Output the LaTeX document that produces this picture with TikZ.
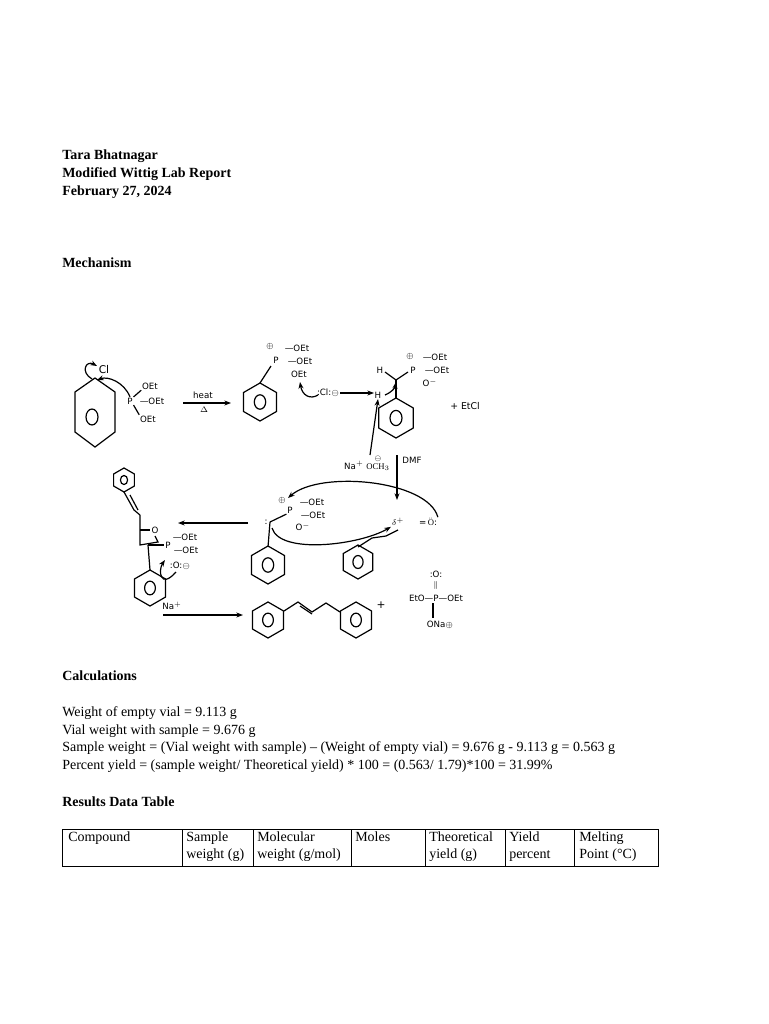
\documentclass[tikz,border=0pt]{standalone}
\usepackage{fontspec}
\setmainfont{Liberation Serif}
\newfontfamily\hand{DejaVu Sans}
\usetikzlibrary{arrows.meta}
\newcommand\hexring[3]{\draw[ink] (#1,#2) +(90:#3) -- +(30:#3) -- +(-30:#3) -- +(-90:#3) -- +(-150:#3) -- +(150:#3) -- cycle; \draw[ink] (#1,#2) ellipse ({0.3*#3} and {0.38*#3});}
\begin{document}
\begin{tikzpicture}[x=0.75pt,y=-0.75pt,
 ink/.style={line width=0.9pt,black},
 arr/.style={ink,-{Stealth[length=5pt]}},
 hw/.style={font=\hand\fontsize{6.5}{7}\selectfont,inner sep=0.5pt},
 body/.style={font=\fontsize{10.5}{12}\selectfont,anchor=west,inner sep=0pt},
 head/.style={body,font=\fontsize{10.5}{12}\selectfont\bfseries}]
\useasboundingbox (0,0) rectangle (768,1024);
% header
\node[head] (t1) at (62,156) {Tara Bhatnagar};
\node[head] (t2) at (62,174) {Modified Wittig Lab Report};
\node[head] (t3) at (62,192) {February 27, 2024};
\node[head] (mech) at (62,263) {Mechanism};
% step 1
\draw[ink] (95,378) -- (115,392) -- (115,432) -- (95,447) -- (75,432) -- (75,392) -- cycle;
\draw[ink] (92,417) ellipse (6 and 8);
\node[hw,font=\hand\fontsize{8}{9}\selectfont] (cl1) at (104,370) {Cl};
\draw[arr] (92,379) .. controls (80,372) and (86,360) .. (97,366);
\node[hw] (p1) at (130,401) {P};
\node[hw] (o11) at (150,386) {OEt};
\node[hw] (o12) at (152,401) {—OEt};
\node[hw] (o13) at (148,419) {OEt};
\draw[arr] (p1.north) .. controls (124,382) and (108,376) .. (97,380);
\draw[ink] (p1.north east) -- (o11.south west); \draw[ink] (p1.south east) -- (o13.north west);
\coordinate (h1) at (183,403); \coordinate (h2) at (231,403);
\draw[arr] (h1) -- (h2);
\node[hw] (heat) at (203,395) {heat};
\node[hw] (delta) at (204,410) {$\Delta$};
% step 2
\hexring{260}{402}{19}
\draw[ink] (260,383) -- (271,366);
\node[hw] (p2) at (276,360) {P};
\node[hw] (pl2) at (270,346) {$\oplus$};
\node[hw] (o21) at (297,348) {—OEt};
\node[hw] (o22) at (300,361) {—OEt};
\node[hw] (o23) at (299,374) {OEt};
\node[hw] (cl2) at (328,393) {:Cl:$\ominus$};
\draw[arr] (318,395) .. controls (310,400) and (302,395) .. (300,382);
\coordinate (a2) at (340,393); \coordinate (b2) at (374,393);
\draw[arr] (a2) -- (b2);
% step 3
\node[hw] (hh) at (380,370) {H};
\node[hw] (h3) at (378,395) {H};
\draw[ink] (385,372) -- (396,380) -- (408,372);
\draw[ink] (396,380) -- (396,398);
\hexring{396}{418}{20}
\node[hw] (p3) at (413,370) {P};
\node[hw] (pl3) at (410,356) {$\oplus$};
\node[hw] (o31) at (435,357) {—OEt};
\node[hw] (o32) at (437,370) {—OEt};
\node[hw] (o33) at (430,383) {O$^-$};
\draw[arr] (385,395) .. controls (392,392) and (395,388) .. (396,382);
\node[hw,font=\hand\fontsize{7}{8}\selectfont] (etcl) at (465,406) {+ EtCl};
% base
\node[hw] (base) at (367,463) {Na$^+$ $\stackrel{\ominus}{\mathrm{OCH}_3}$};
\draw[arr] (370,455) -- (h3.south);
\node[hw] (dmf) at (412,460) {DMF};
\coordinate (d1) at (397,455); \coordinate (d2) at (397,500);
\draw[arr] (d1) -- (d2);
% ylide
\node[hw] (pl4) at (282,500) {$\oplus$};
\node[hw] (p4) at (290,510) {P};
\node[hw] (o41) at (312,502) {—OEt};
\node[hw] (o42) at (313,515) {—OEt};
\node[hw] (o43) at (303,527) {O$^-$};
\node[hw] (c4) at (266,522) {:};
\draw[ink] (270,522) -- (p4.south west);
\draw[ink] (270,522) -- (268,547);
\hexring{268}{565}{19}
\node[hw] (dlt) at (398,522) {$\delta^+$};
\node[hw] (ald) at (428,522) {=\,$\ddot{\mathrm{O}}$:};
\draw[ink] (398,530) -- (386,536) -- (372,538) -- (358,547);
\hexring{358}{562}{17}
\draw[arr] (ald.north east) .. controls (428,480) and (320,470) .. (288,498);
\draw[arr] (272,528) .. controls (280,555) and (360,545) .. (dlt.south west);
\coordinate (a4) at (248,523); \coordinate (b4) at (178,523);
\draw[arr] (a4) -- (b4);
% oxaphosphetane
\hexring{124}{480}{12}
\draw[ink] (124,492) -- (134,510) -- (140,515);
\draw[ink] (130,495) -- (138,510);
\draw[ink] (140,515) -- (140,545) -- (158,542) -- (155,536);
\draw[ink] (140,530) -- (150,530);
\node[hw] (o5) at (155,530) {O};
\node[hw] (p5) at (168,545) {P};
\node[hw] (o51) at (185,537) {—OEt};
\node[hw] (o52) at (186,550) {—OEt};
\node[hw] (o53) at (180,566) {:O:$\ominus$};
\draw[ink] (148,545) -- (p5.west);
\draw[ink] (148,545) -- (150,570);
\hexring{150}{588}{18}
\draw[arr] (176,572) .. controls (160,590) and (158,570) .. (165,560);
\node[hw] (na) at (172,606) {Na$^+$};
\coordinate (a5) at (163,615); \coordinate (b5) at (243,615);
\draw[arr] (a5) -- (b5);
% product
\hexring{268}{620}{18}
\draw[ink] (284,611) -- (298,602) -- (312,612) -- (326,603) -- (340,612);
\draw[ink] (300,606) -- (312,614);
\hexring{356}{620}{18}
\node[hw,font=\hand\fontsize{8}{9}\selectfont] (plus) at (381,605) {+};
\node[hw] (po) at (436,574) {:O:};
\node[hw] (peq) at (436,585) {$\|$};
\node[hw] (pp) at (436,598) {EtO—P—OEt};
\node[hw] (pona) at (440,625) {ONa$\oplus$};
\draw[ink] (433,603) -- (433,618);
% calculations
\node[head] (calc) at (62,676) {Calculations};
\node[body] (l1) at (62,713) {Weight of empty vial = 9.113 g};
\node[body] (l2) at (62,731) {Vial weight with sample = 9.676 g};
\node[body] (l3) at (62,748) {Sample weight = (Vial weight with sample) -- (Weight of empty vial) = 9.676 g - 9.113 g = 0.563 g};
\node[body] (l4) at (62,766) {Percent yield = (sample weight/ Theoretical yield) * 100 = (0.563/ 1.79)*100 = 31.99\%};
\node[head] (res) at (62,802) {Results Data Table};
% table
\draw[line width=0.6pt] (62,829) rectangle (658,866);
\foreach \x in {182,253,351,425,505,574} \draw[line width=0.6pt] (\x,829) -- (\x,866);
\foreach \x/\a/\b in {69/Compound/{},187/Sample/{weight (g)},258/Molecular/{weight (g/mol)},356/Moles/{},430/Theoretical/{yield (g)},510/Yield/percent,580/Melting/{Point (°C)}}
 \node[body,anchor=north west,font=\fontsize{10.5}{12.5}\selectfont,align=left] at (\x-1,832) {\a\\\b};
\end{tikzpicture}
\end{document}
